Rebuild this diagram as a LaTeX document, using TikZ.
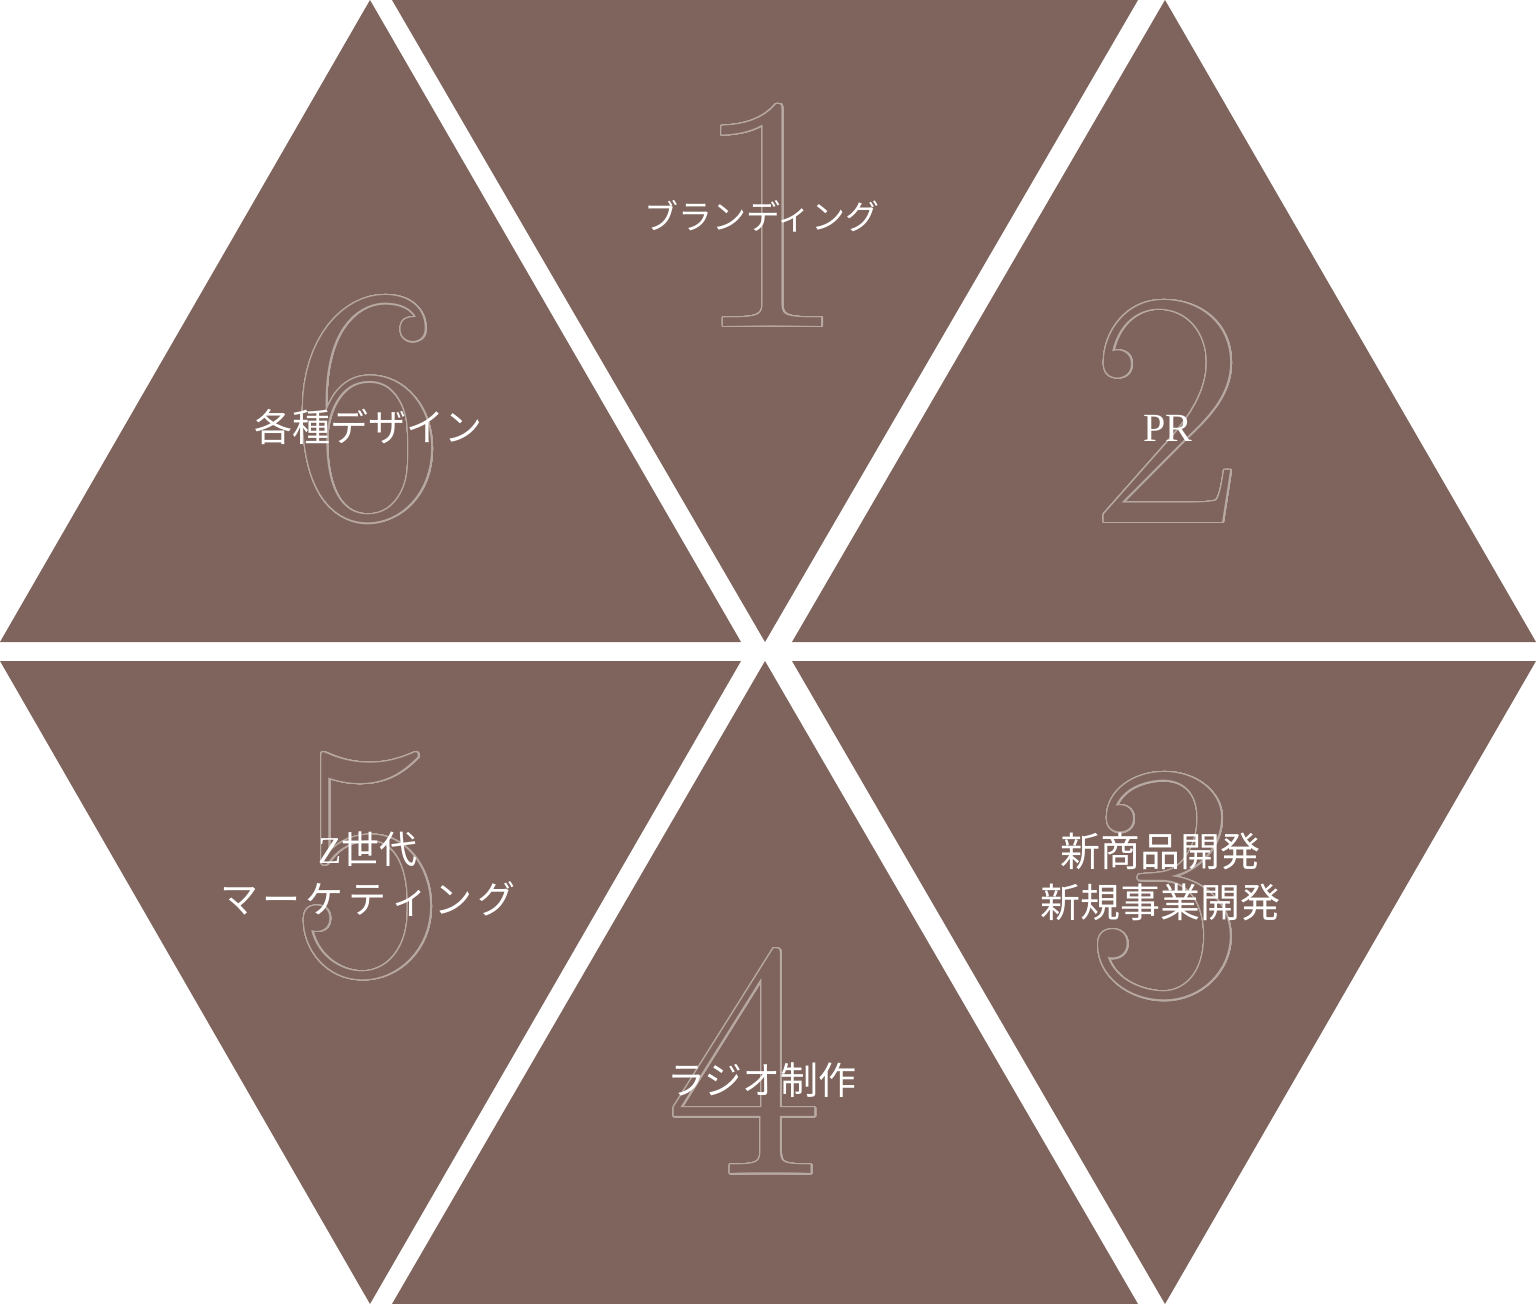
\documentclass[tikz,border=0pt]{standalone}
\usepackage{fontspec}
\usepackage[copies]{contour}
\newfontfamily\cjk{Noto Sans CJK JP}
\newfontfamily\serifL{Liberation Serif}
\definecolor{tricol}{HTML}{7E645C}
\definecolor{digcol}{HTML}{B8A8A2}
\newcommand\kk{\kern2.5pt}
\contourlength{0.65pt}
\contournumber{48}
\newcommand\outl[1]{\contour{digcol}{\textcolor{tricol}{#1}}}
\begin{document}
\begin{tikzpicture}[x=0.5pt,y=-0.5pt,
  tri/.style={fill=tricol,draw=none},
  lab/.style={text=white,inner sep=0,align=center,font=\cjk\fontsize{19}{25}\selectfont},
  num/.style={inner sep=0,font=\fontsize{168}{168}\selectfont}]
\useasboundingbox (0,0) rectangle (1536,1304);
% triangles
\fill[tri] (0,642) -- (370,0) -- (741,642) -- cycle;
\fill[tri] (392,0) -- (1138,0) -- (765,642) -- cycle;
\fill[tri] (792,642) -- (1165,0) -- (1536,642) -- cycle;
\fill[tri] (792,661) -- (1536,661) -- (1165,1304) -- cycle;
\fill[tri] (765,661) -- (1138,1304) -- (392,1304) -- cycle;
\fill[tri] (0,661) -- (741,661) -- (370,1304) -- cycle;
% outlined digits
\node[num] (d1) at (770,216) {\outl{1}};
\node[num] (d2) at (1168,412) {\outl{2}};
\node[num] (d3) at (1165,887) {\outl{3}};
\node[num] (d4) at (745,1062) {\outl{4}};
\node[num] (d5) at (368,867) {\outl{5}};
\node[num] (d6) at (368,410) {\outl{6}};
% labels
\node[lab,font=\cjk\fontsize{17}{22}\selectfont] (l1) at (762,216) {ブランディング};
\node[lab,font=\serifL\fontsize{20}{25}\selectfont] (l2) at (1168,428) {PR};
\node[lab,font=\cjk\fontsize{20}{25.5}\selectfont] (l3) at (1160,877) {新商品開発\\新規事業開発};
\node[lab] (l4) at (762,1080) {ラジオ制作};
\node[lab] (l5) at (368,874) {{\serifL Z}世代\\マ\kk ー\kk ケ\kk テ\kk ィ\kk ン\kk グ};
\node[lab] (l6) at (368,427) {各種デザイン};
\end{tikzpicture}
\end{document}
